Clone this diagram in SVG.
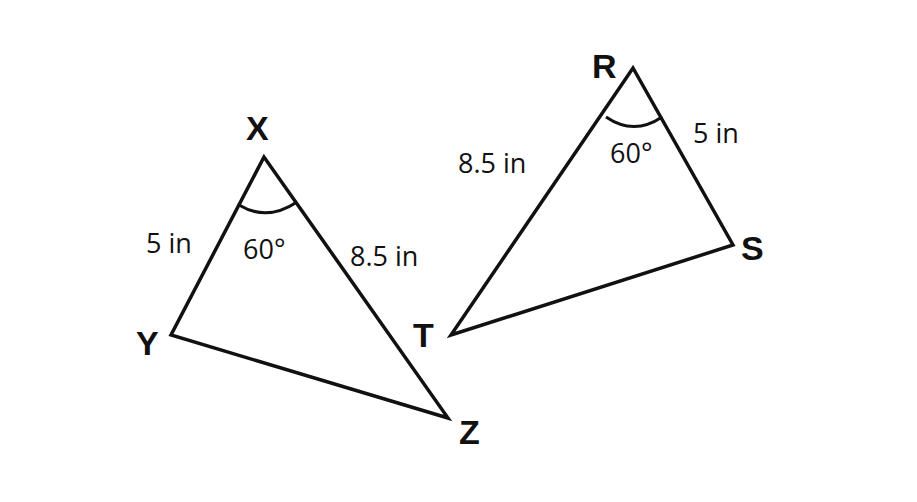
<svg xmlns="http://www.w3.org/2000/svg" width="917" height="502" viewBox="0 0 917 502">
<style>
.l{fill:none;stroke:#111;stroke-width:3.5;stroke-linejoin:miter}
.a{fill:none;stroke:#111;stroke-width:3}
.v{font-family:"Liberation Sans",Arial,sans-serif;font-weight:bold;font-size:34px;fill:#111}
.t{font-family:"Open Sans","Liberation Sans",sans-serif;font-size:27px;fill:#111}
</style>
<rect width="917" height="502" fill="#fff"/>
<g id="triangleXYZ">
<polygon class="l" points="264,157 171,335 448,418"/>
<path class="a" d="M239,205 Q267,222 297,202"/>
<text class="v" x="246" y="140">X</text>
<text class="v" x="136" y="355">Y</text>
<text class="v" x="459" y="444">Z</text>
<text class="t" x="146" y="253">5 in</text>
<text class="t" x="243" y="259">60°</text>
<text class="t" x="350" y="266">8.5 in</text>
</g>
<g id="triangleRST">
<polygon class="l" points="633,68 733,245 451,335"/>
<path class="a" d="M606,117 Q634,136 662,117"/>
<text class="v" x="592" y="78">R</text>
<text class="v" x="741" y="260">S</text>
<text class="v" x="413" y="347">T</text>
<text class="t" x="458" y="173">8.5 in</text>
<text class="t" x="610" y="163">60°</text>
<text class="t" x="693" y="143">5 in</text>
</g>
</svg>
